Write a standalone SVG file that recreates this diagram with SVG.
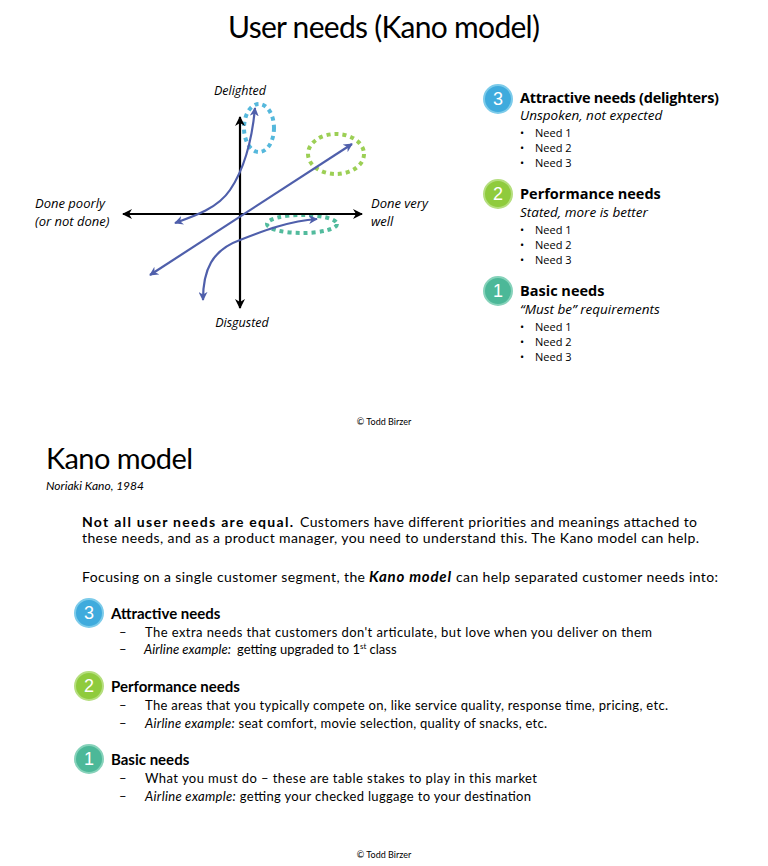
<svg xmlns="http://www.w3.org/2000/svg" width="768" height="866" viewBox="0 0 768 866">
<defs>
<marker id="ak" viewBox="0 0 10 10" refX="9" refY="5" markerWidth="10" markerHeight="10" markerUnits="userSpaceOnUse" orient="auto-start-reverse"><path d="M0,0 L10,5 L0,10 L3,5 Z" fill="#000"/></marker>
<marker id="ab" viewBox="0 0 10 10" refX="9" refY="5" markerWidth="9" markerHeight="9" markerUnits="userSpaceOnUse" orient="auto-start-reverse"><path d="M0,0 L10,5 L0,10 L3,5 Z" fill="#4f5fab"/></marker>
</defs>
<style>
.t{font-family:Lato,"Liberation Sans",sans-serif;fill:#000}
.c{font-family:"Open Sans","Liberation Sans",sans-serif;fill:#000}
.it{font-style:italic}
.b{font-weight:bold}
.ax{stroke:#000;stroke-width:2.2;fill:none}
.cv{stroke:#4f5fab;stroke-width:2.2;fill:none}
.dot{fill:none;stroke-width:4;stroke-dasharray:4 4}
.num{font-family:"Liberation Sans",sans-serif;font-size:18px;fill:#fff;text-anchor:middle}
.nd{font-family:"Open Sans","Liberation Sans",sans-serif;font-size:11px;fill:#000}
</style>
<rect width="768" height="866" fill="#fff"/>
<text class="t" x="384" y="38" font-size="30" text-anchor="middle" textLength="312">User needs (Kano model)</text>

<g id="chart">
<ellipse class="dot" cx="259" cy="128" rx="15" ry="24" stroke="#55b8dc"/>
<ellipse class="dot" cx="336" cy="154" rx="28" ry="20" stroke="#9ccf55"/>
<ellipse class="dot" cx="302" cy="224" rx="35" ry="9" stroke="#52bb9d"/>
<g id="connectors">
<line class="ax" x1="123" y1="214" x2="362" y2="214" marker-start="url(#ak)" marker-end="url(#ak)"/>
<line class="ax" x1="240" y1="117" x2="240" y2="308" marker-start="url(#ak)" marker-end="url(#ak)"/>
<path class="cv" d="M175,223 C195,216 218,208 230,190 C245,168 252,140 255,108" marker-start="url(#ab)" marker-end="url(#ab)"/>
<line class="cv" x1="150" y1="275" x2="352" y2="144" marker-start="url(#ab)" marker-end="url(#ab)"/>
<path class="cv" d="M203,300 C203,270 212,250 240,240 C265,230 290,221 317,219" marker-start="url(#ab)" marker-end="url(#ab)"/>
</g>
<text class="c it" x="240" y="95" font-size="12.5" text-anchor="middle">Delighted</text>
<text class="c it" x="242" y="327" font-size="12.5" text-anchor="middle">Disgusted</text>
<text class="c it" x="35" y="208" font-size="13">Done poorly</text>
<text class="c it" x="35" y="226" font-size="13">(or not done)</text>
<text class="c it" x="371" y="208" font-size="13">Done very</text>
<text class="c it" x="371" y="226" font-size="13">well</text>
</g>

<g id="legend3">
<circle cx="498" cy="99" r="14" fill="#3fabdd" stroke="#7ccbea" stroke-width="2"/>
<text class="num" x="498" y="105">3</text>
<text class="c b" x="520" y="103" font-size="14.5" textLength="199">Attractive needs (delighters)</text>
<text class="c it" x="520" y="120" font-size="13.5">Unspoken, not expected</text>
<text class="nd" x="520" y="137">•</text><text class="nd" x="535" y="137">Need 1</text>
<text class="nd" x="520" y="152">•</text><text class="nd" x="535" y="152">Need 2</text>
<text class="nd" x="520" y="167">•</text><text class="nd" x="535" y="167">Need 3</text>
</g>
<g id="legend2">
<circle cx="498" cy="194" r="14" fill="#8fcb3d" stroke="#b5de7e" stroke-width="2"/>
<text class="num" x="498" y="200">2</text>
<text class="c b" x="520" y="199" font-size="14.5">Performance needs</text>
<text class="c it" x="520" y="217" font-size="13.5">Stated, more is better</text>
<text class="nd" x="520" y="234">•</text><text class="nd" x="535" y="234">Need 1</text>
<text class="nd" x="520" y="249">•</text><text class="nd" x="535" y="249">Need 2</text>
<text class="nd" x="520" y="264">•</text><text class="nd" x="535" y="264">Need 3</text>
</g>
<g id="legend1">
<circle cx="498" cy="291" r="14" fill="#4cb898" stroke="#86d2ba" stroke-width="2"/>
<text class="num" x="498" y="297">1</text>
<text class="c b" x="520" y="296" font-size="14.5">Basic needs</text>
<text class="c it" x="520" y="314" font-size="13.5">“Must be” requirements</text>
<text class="nd" x="520" y="331">•</text><text class="nd" x="535" y="331">Need 1</text>
<text class="nd" x="520" y="346">•</text><text class="nd" x="535" y="346">Need 2</text>
<text class="nd" x="520" y="361">•</text><text class="nd" x="535" y="361">Need 3</text>
</g>
<text class="t" x="384" y="425" font-size="9" text-anchor="middle">© Todd Birzer</text>

<g id="kano">
<text class="t" x="46" y="469" font-size="29" textLength="147">Kano model</text>
<text class="t it" x="46" y="490" font-size="12">Noriaki Kano, 1984</text>
<text class="t b" x="82" y="527" font-size="14" textLength="211">Not all user needs are equal.</text>
<text class="t" x="300" y="527" font-size="14" textLength="397">Customers have different priorities and meanings attached to</text>
<text class="t" x="82" y="543" font-size="14" textLength="617">these needs, and as a product manager,  you need to understand this. The Kano model can help.</text>
<text class="t" x="82" y="582" font-size="14" textLength="283">Focusing on a single customer segment, the</text>
<text class="t b it" x="369" y="582" font-size="15" textLength="82">Kano model</text>
<text class="t" x="456" y="582" font-size="14" textLength="262">can help separated customer needs into:</text>
</g>
<g id="item3">
<circle cx="89" cy="613" r="14" fill="#3fabdd" stroke="#7ccbea" stroke-width="2"/>
<text class="num" x="89" y="619">3</text>
<text class="t b" x="111" y="619" font-size="15">Attractive needs</text>
<text class="t" x="119" y="637" font-size="13">–</text>
<text class="t" x="145" y="637" font-size="13" textLength="507">The extra needs that customers don't articulate, but love when you deliver on them</text>
<text class="t" x="119" y="654" font-size="13">–</text>
<text class="t it" x="144" y="654" font-size="13" textLength="87">Airline example:</text>
<text class="t" x="237" y="654" font-size="13">getting upgraded to 1<tspan font-size="8" dy="-5">st</tspan><tspan dy="5"> class</tspan></text>
</g>
<g id="item2">
<circle cx="89" cy="686" r="14" fill="#8fcb3d" stroke="#b5de7e" stroke-width="2"/>
<text class="num" x="89" y="692">2</text>
<text class="t b" x="111" y="692" font-size="15">Performance needs</text>
<text class="t" x="119" y="710" font-size="13">–</text>
<text class="t" x="145" y="710" font-size="13" textLength="523">The areas that you typically compete on, like service quality, response time, pricing, etc.</text>
<text class="t" x="119" y="728" font-size="13">–</text>
<text class="t" x="145" y="728" font-size="13" textLength="402"><tspan font-style="italic">Airline example:</tspan> seat comfort, movie selection, quality of snacks, etc.</text>
</g>
<g id="item1">
<circle cx="89" cy="759" r="14" fill="#4cb898" stroke="#86d2ba" stroke-width="2"/>
<text class="num" x="89" y="765">1</text>
<text class="t b" x="111" y="765" font-size="15">Basic needs</text>
<text class="t" x="119" y="783" font-size="13">–</text>
<text class="t" x="145" y="783" font-size="13" textLength="392">What you must do – these are table stakes to play in this market</text>
<text class="t" x="119" y="801" font-size="13">–</text>
<text class="t" x="145" y="801" font-size="13" textLength="386"><tspan font-style="italic">Airline example:</tspan> getting your checked luggage to your destination</text>
</g>
<text class="t" x="384" y="858" font-size="9" text-anchor="middle">© Todd Birzer</text>
</svg>
